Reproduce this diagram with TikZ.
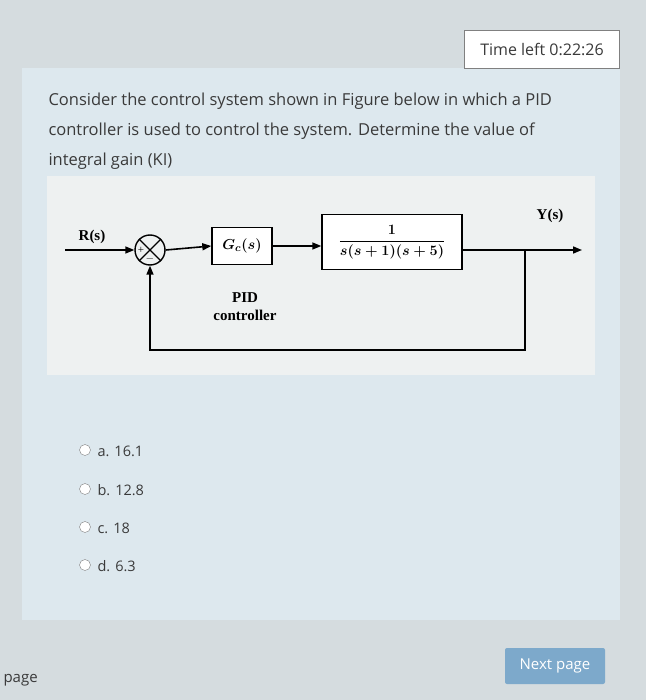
\documentclass[tikz,border=0pt]{standalone}
\usepackage{amsmath}
\usepackage{bm}
\usepackage{fontspec}
\setmainfont{Liberation Serif}
\newfontfamily\uisans{Open Sans}
\usetikzlibrary{arrows.meta}
\definecolor{bgc}{HTML}{D5DCDF}
\definecolor{panel}{HTML}{DDE8EE}
\definecolor{diag}{HTML}{EEF1F1}
\definecolor{txt}{HTML}{3A3A3A}
\definecolor{btn}{HTML}{7DA9CB}
\begin{document}
\begin{tikzpicture}[x=1pt,y=-1pt,
  blk/.style={draw,line width=1.4pt,fill=white,inner sep=0pt},
  sig/.style={line width=1.6pt,-{Triangle[length=9pt,width=7pt]}},
  ui/.style={font=\uisans\fontsize{16.5}{18}\selectfont,text=txt,anchor=west},
  opt/.style={font=\uisans\fontsize{14.5}{16}\selectfont,text=txt,anchor=west},
  radio/.style={circle,draw=gray,fill=white,minimum size=11pt,inner sep=0pt}]
\useasboundingbox (0,0) rectangle (646,700);
\fill[bgc] (0,0) rectangle (646,700);
\fill[panel] (22,68) rectangle (620,620);
\node[draw=gray,fill=white,minimum width=155pt,minimum height=38pt,font=\uisans\fontsize{16}{18}\selectfont,text=txt] (time) at (542,49) {Time left 0:22:26};
\node[ui] (q1) at (45,101) {Consider the control system shown in Figure below in which a PID};
\node[ui] (q2) at (45,131) {controller is used to control the system. Determine the value of};
\node[ui] (q3) at (45,161) {integral gain (KI)};
\fill[diag] (47,176) rectangle (595,375);
% diagram
\node[font=\bfseries\fontsize{15}{17}\selectfont] (R) at (92,237) {R(s)};
\node[circle,draw,line width=1.4pt,minimum size=30pt,inner sep=0pt] (sum) at (150,250) {};
\draw[line width=1.4pt] (sum.north west) -- (sum.south east) (sum.north east) -- (sum.south west);
\node[font=\fontsize{11}{11}\selectfont] (plus) at (141,250) {+};
\node[font=\fontsize{11}{11}\selectfont] (minus) at (150,259) {$-$};
\node[blk,minimum width=60pt,minimum height=37pt,font=\fontsize{15}{17}\selectfont] (G) at (242,246) {$\bm{G_c(s)}$};
\node[blk,minimum width=140pt,minimum height=55pt,font=\fontsize{15}{17}\selectfont] (P) at (392,242) {$\bm{\dfrac{1}{s(s+1)(s+5)}}$};
\node[font=\bfseries\fontsize{15}{17}\selectfont] (Y) at (550,216) {Y(s)};
\node[align=center,font=\bfseries\fontsize{15}{18}\selectfont,inner sep=0pt] (pid) at (245,307) {PID\\controller};
\coordinate (in) at (65,250);
\coordinate (br) at (525,250);
\coordinate (out) at (582,250);
\coordinate (fb1) at (525,350);
\coordinate (fb2) at (150,350);
\draw[sig] (in) -- (sum.west);
\draw[sig] (sum.east) -- (G.west);
\draw[sig] (G.east) -- (P.west |- G.east);
\draw[sig] (P.east |- br) -- (out);
\draw[sig] (br) -- (fb1) -- (fb2) -- (sum.south);
% options
\node[radio] (ra) at (85,450) {}; \node[opt] (a) at (94,451) {a. 16.1};
\node[radio] (rb) at (85,489) {}; \node[opt] (b) at (94,490) {b. 12.8};
\node[radio] (rc) at (85,527) {}; \node[opt] (c) at (94,528) {c. 18};
\node[radio] (rd) at (85,565) {}; \node[opt] (d) at (94,566) {d. 6.3};
\node[fill=btn,rounded corners=2pt,minimum width=100pt,minimum height=36pt,text=white,font=\uisans\fontsize{15}{18}\selectfont] (next) at (555,666) {Next page};
\node[font=\uisans\fontsize{15}{18}\selectfont,text=txt,anchor=west] (pg) at (0,680) {page};
\end{tikzpicture}
\end{document}
